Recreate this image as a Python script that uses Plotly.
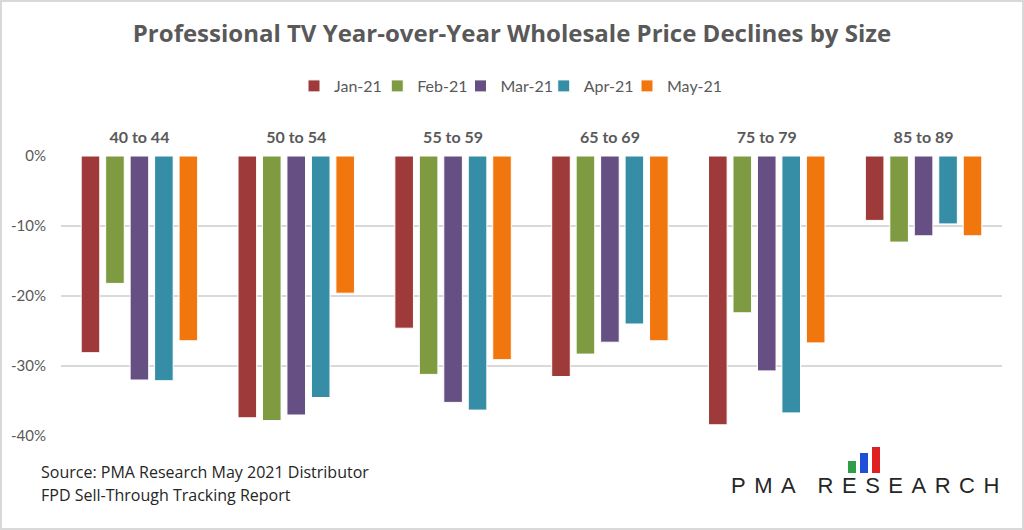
import plotly.graph_objects as go

categories = ["40 to 44", "50 to 54", "55 to 59", "65 to 69", "75 to 79", "85 to 89"]
series_names = ["Jan-21", "Feb-21", "Mar-21", "Apr-21", "May-21"]
jan21 = [-28.1, -37.4, -24.6, -31.5, -38.4, -9.2]
feb21 = [-18.2, -37.8, -31.2, -28.3, -22.4, -12.3]
mar21 = [-32.0, -37.0, -35.2, -26.6, -30.7, -11.4]
apr21 = [-32.1, -34.5, -36.3, -24.0, -36.7, -9.7]
may21 = [-26.4, -19.6, -29.1, -26.4, -26.7, -11.4]
y_tick_vals = [0, -10, -20, -30, -40]
y_tick_text = ["0%", "-10%", "-20%", "-30%", "-40%"]

colors = ["#9E3A39", "#7F9B41", "#654F83", "#368DA6", "#F2760E"]
values = [jan21, feb21, mar21, apr21, may21]

W, H = 1024, 530
ML, MR, MT, MB = 61, 22, 156, 94
PW, PH = W - ML - MR, H - MT - MB

def px_x(x):
    return (x - ML) / PW

def px_y(y):
    return (H - MB - y) / PH

legend_ids = ["legend", "legend2", "legend3", "legend4", "legend5"]

fig = go.Figure()
for i, (name, vals, c) in enumerate(zip(series_names, values, colors)):
    fig.add_trace(go.Bar(
        x=categories, y=vals, name=name, legend=legend_ids[i],
        marker=dict(color=c, line=dict(color="white", width=1)),
    ))

legend_layout = {}
for i, lid in enumerate(legend_ids):
    legend_layout[lid] = dict(
        orientation="h", x=(294 + i * 83.25) / W, xref="container", xanchor="left",
        y=1 - 86 / H, yref="container", yanchor="middle",
        font=dict(size=16, color="#595959", family="Lato, sans-serif"),
        bgcolor="rgba(0,0,0,0)",
    )

fig.update_layout(
    width=W, height=H,
    margin=dict(l=ML, r=MR, t=MT, b=MB),
    paper_bgcolor="white", plot_bgcolor="white",
    barmode="group", bargap=0.22, bargroupgap=0.24,
    font=dict(family="Lato, sans-serif", color="#595959"),
    title=dict(
        text="<b>Professional TV Year-over-Year Wholesale Price Declines by Size</b>",
        x=0.5, xref="container", xanchor="center",
        y=1 - 34 / H, yref="container", yanchor="middle",
        font=dict(size=24, color="#595959", family="Open Sans, sans-serif"),
    ),
    xaxis=dict(
        side="top", showgrid=False, showline=False, ticks="",
        tickfont=dict(size=16, color="#595959", family="Lato, sans-serif", weight="bold"),
        ticklabelstandoff=9,
    ),
    yaxis=dict(
        range=[-40, 0], tickvals=y_tick_vals, ticktext=y_tick_text,
        showgrid=True, gridcolor="#D9D9D9", gridwidth=1.5,
        zeroline=False, showline=False, ticks="",
        tickfont=dict(size=15, color="#595959"),
        ticklabelstandoff=14,
    ),
    showlegend=True,
    **legend_layout,
)

# outer border
fig.add_shape(type="rect", xref="paper", yref="paper",
              x0=px_x(1), x1=px_x(W - 1), y0=px_y(H - 1), y1=px_y(1),
              line=dict(color="#D9D9D9", width=2), fillcolor="rgba(0,0,0,0)", layer="below")

# source note
source_lines = ["Source: PMA Research May 2021 Distributor", "FPD Sell-Through Tracking Report"]
for line, ypx in zip(source_lines, [472, 495]):
    fig.add_annotation(
        text=line, xref="paper", yref="paper", x=px_x(39), y=px_y(ypx),
        xanchor="left", yanchor="middle", align="left", showarrow=False,
        font=dict(size=16, color="#262626", family="Open Sans, sans-serif"),
    )

# logo text
fig.add_annotation(
    text="<span style='letter-spacing:8.5px'>PMA RESEARCH</span>",
    xref="paper", yref="paper", x=px_x(1010), y=px_y(485), xanchor="right", yanchor="middle",
    showarrow=False,
    font=dict(size=22, color="#262626", family="Liberation Sans, Arial, sans-serif"),
)
# logo bars
for (x0, y0, c) in [(848, 461, "#2E9E4A"), (860, 453, "#1F4FD8"), (872, 447, "#E02020")]:
    fig.add_shape(type="rect", xref="paper", yref="paper",
                  x0=px_x(x0), x1=px_x(x0 + 8), y0=px_y(473), y1=px_y(y0),
                  line=dict(width=0), fillcolor=c)

fig.write_html("out.html")
